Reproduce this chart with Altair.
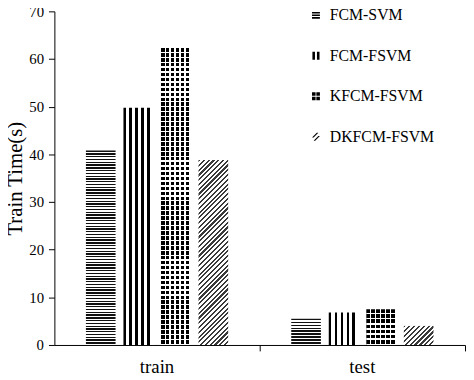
import math
import altair as alt
import pandas as pd

categories = ["train", "test"]
series = ["FCM-SVM", "FCM-FSVM", "KFCM-FSVM", "DKFCM-FSVM"]
train_values = [40.8, 49.8, 62.3, 38.8]
test_values = [5.5, 6.8, 7.5, 4.0]

rows = []
for s, v in zip(series, train_values):
    rows.append({"cat": "train", "series": s, "value": v})
for s, v in zip(series, test_values):
    rows.append({"cat": "test", "series": s, "value": v})
df = pd.DataFrame(rows)

PLOT_W, PLOT_H = 416, 338
YMAX = 70
SERIF = "Liberation Serif"

# band geometry (used only to size the fill patterns)
X_STEP = PLOT_W / len(categories)
OFF_PI, OFF_PO = 0.21, 0.84
OFF_STEP = X_STEP / (len(series) - OFF_PI + 2 * OFF_PO)
BAR_W = OFF_STEP * (1 - OFF_PI)


def stripes(n, frac, c1, c2, x2, y2, x1=0.0, y1=0.0):
    stops = []
    for i in range(n):
        a = i / n
        b = (i + frac) / n
        c = (i + 1) / n
        stops += [(a, c1), (b, c1), (b, c2), (c, c2)]
    return alt.Gradient(
        gradient="linear",
        stops=[alt.GradientStop(offset=round(o, 6), color=col) for o, col in stops],
        x1=x1, y1=y1, x2=x2, y2=y2,
    )


def px_height(v):
    return v / YMAX * PLOT_H


def hstripe_grad(v, period, frac, c1, c2):
    n = max(1, round(px_height(v) / period))
    return stripes(n, frac, c1, c2, 0, 1)


def diag_grad(v, period, frac, c1, c2):
    w = BAR_W
    h = px_height(v)
    a, b = 1.0, h / w
    s = (a + b) / (a * a + b * b)
    n = max(1, round((w + h) / (math.sqrt(2) * period)))
    return stripes(n, frac, c1, c2, a * s, b * s)


base = alt.Chart(df).encode(
    x=alt.X(
        "cat:N",
        scale=alt.Scale(domain=categories, paddingInner=0, paddingOuter=0),
        axis=alt.Axis(
            title=None, labelAngle=0, bandPosition=1,
            labelFont=SERIF, labelFontSize=19, labelColor="black",
            tickSize=6, tickColor="black", domainColor="black",
            labelPadding=7,
        ),
    ),
    xOffset=alt.XOffset(
        "series:N",
        scale=alt.Scale(domain=series, paddingInner=OFF_PI, paddingOuter=OFF_PO),
    ),
    y=alt.Y(
        "value:Q",
        scale=alt.Scale(domain=[0, YMAX], nice=False),
        axis=alt.Axis(
            title="Train Time(s)", values=list(range(0, 71, 10)), grid=False,
            labelFont=SERIF, labelFontSize=15, labelColor="black",
            titleFont=SERIF, titleFontSize=21, titleFontWeight="normal",
            titleColor="black", titlePadding=3,
            tickSize=6, tickColor="black", domainColor="black", labelPadding=5,
        ),
    ),
)


def sel(s, cat=None):
    cond = alt.datum.series == s
    if cat is not None:
        cond = cond & (alt.datum.cat == cat)
    return cond


layers = []
# FCM-SVM: horizontal stripes
for cat, vals in (("train", train_values), ("test", test_values)):
    g = hstripe_grad(vals[0], 2.8, 0.5, "#111111", "white")
    layers.append(base.transform_filter(sel(series[0], cat)).mark_bar(color=g))

# FCM-FSVM: vertical stripes
layers.append(
    base.transform_filter(sel(series[1])).mark_bar(
        color=stripes(5, 0.45, "black", "white", 1, 0)
    )
)

# KFCM-FSVM: dotted grid
layers.append(
    base.transform_filter(sel(series[2])).mark_bar(
        color=stripes(6, 0.72, "black", "white", 1, 0)
    )
)
for cat, vals in (("train", train_values), ("test", test_values)):
    g = hstripe_grad(vals[2], 5.0, 0.72, "rgba(255,255,255,0)", "white")
    layers.append(base.transform_filter(sel(series[2], cat)).mark_bar(color=g))

# DKFCM-FSVM: diagonal stripes
for cat, vals in (("train", train_values), ("test", test_values)):
    g = diag_grad(vals[3], 3.4, 0.45, "#3a3a3a", "white")
    layers.append(base.transform_filter(sel(series[3], cat)).mark_bar(color=g))

shape_paths = [
    "M-1,-0.85H1V-0.45H-1ZM-1,-0.2H1V0.2H-1ZM-1,0.45H1V0.85H-1Z",
    "M-0.9,-1H-0.25V1H-0.9ZM0.25,-1H0.9V1H0.25Z",
    "M-1,-1H-0.1V-0.1H-1ZM0.1,0.1H1V1H0.1ZM0.1,-1H1V-0.1H0.1ZM-1,0.1H-0.1V1H-1Z",
    "M-1,0.2L0.2,-1L0.6,-1L-0.6,0.2ZM-0.6,1L0.6,-0.2L1,-0.2L-0.2,1Z",
]

legend_layer = base.mark_point(filled=True, color="black", opacity=0).encode(
    shape=alt.Shape(
        "series:N",
        scale=alt.Scale(domain=series, range=shape_paths),
        legend=alt.Legend(
            title=None, orient="none", legendX=257, legendY=-4,
            labelFont=SERIF, labelFontSize=16, labelColor="black",
            symbolSize=64, symbolOpacity=1, symbolFillColor="black",
            symbolStrokeWidth=0,
            rowPadding=25, labelOffset=6, padding=0,
        ),
    )
)
layers.append(legend_layer)

chart = (
    alt.layer(*layers)
    .properties(
        width=PLOT_W,
        height=PLOT_H,
        autosize=alt.AutoSizeParams(type="none"),
        padding={"left": 47, "top": 1, "right": 1, "bottom": 28},
        background="white",
    )
    .configure_view(stroke=None)
    .configure_axis(labelFont=SERIF, titleFont=SERIF)
)

chart.save("out.html", embed_options={"renderer": "svg", "actions": False})
